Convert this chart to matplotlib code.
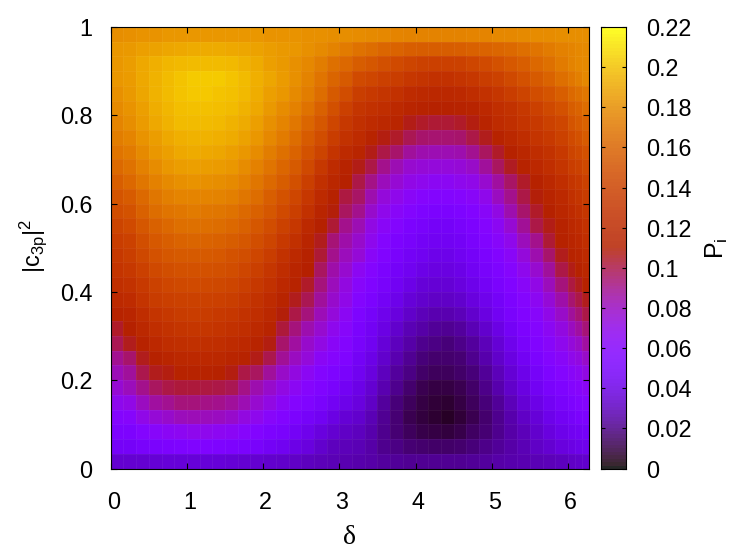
import matplotlib
matplotlib.use("Agg")
import matplotlib.pyplot as plt
from matplotlib.transforms import ScaledTranslation
import numpy as np

plt.rcParams['font.family'] = ['Liberation Sans', 'DejaVu Sans']
plt.rcParams['mathtext.fontset'] = 'custom'
plt.rcParams['mathtext.rm'] = 'Liberation Sans'
plt.rcParams['mathtext.it'] = 'Liberation Sans'

# cell edges of the map
delta_edges = [j / 6 for j in range(37)] + [6.09, 6.19, 6.28]
c3p_edges = [1 - i / 30 for i in range(31)]

x_ticks = [0, 1, 2, 3, 4, 5, 6]
y_ticks = [0, 0.2, 0.4, 0.6, 0.8, 1]
y_labels = ['0', '0.2', '0.4', '0.6', '0.8', '1']
cb_ticks = [0, 0.02, 0.04, 0.06, 0.08, 0.1, 0.12, 0.14, 0.16, 0.18, 0.2, 0.22]
cb_labels = ['0', '0.02', '0.04', '0.06', '0.08', '0.1', '0.12', '0.14', '0.16', '0.18', '0.2', '0.22']

# P_i in units of 0.001, top row first
p_milli = [
    [181, 182, 183, 183, 184, 184, 184, 184, 184, 184, 184, 184, 183, 183, 183, 182, 182, 181, 181, 180, 179, 178, 177, 176, 176, 176, 176, 176, 177, 177, 178, 178, 179, 180, 180, 181, 181, 181, 181],
    [184, 185, 188, 189, 190, 191, 192, 192, 192, 191, 190, 189, 187, 185, 184, 182, 179, 176, 172, 168, 165, 162, 160, 158, 157, 157, 157, 158, 159, 160, 162, 164, 166, 169, 172, 175, 177, 178, 179],
    [184, 187, 191, 194, 196, 197, 198, 198, 198, 197, 195, 192, 188, 185, 182, 178, 173, 167, 163, 157, 153, 149, 146, 142, 140, 139, 139, 140, 143, 146, 150, 154, 158, 163, 167, 172, 176, 178, 179],
    [184, 186, 191, 195, 198, 201, 203, 203, 203, 201, 198, 194, 190, 186, 182, 176, 169, 161, 155, 146, 143, 139, 136, 132, 129, 127, 127, 129, 132, 136, 140, 145, 150, 155, 160, 166, 171, 174, 178],
    [182, 185, 190, 195, 198, 201, 202, 202, 201, 200, 197, 193, 188, 184, 179, 173, 165, 155, 147, 137, 134, 130, 127, 122, 120, 118, 118, 120, 123, 127, 131, 136, 141, 147, 152, 158, 164, 167, 171],
    [179, 183, 188, 193, 196, 199, 200, 200, 199, 198, 195, 191, 185, 180, 175, 168, 159, 149, 139, 130, 127, 124, 120, 116, 113, 112, 112, 113, 115, 119, 124, 128, 133, 139, 145, 150, 157, 160, 165],
    [177, 181, 186, 191, 195, 198, 198, 198, 197, 195, 192, 188, 182, 177, 171, 162, 153, 143, 133, 126, 122, 118, 116, 107, 104, 103, 103, 104, 108, 115, 122, 125, 129, 134, 140, 143, 152, 156, 160],
    [173, 177, 183, 187, 191, 194, 195, 195, 194, 192, 189, 184, 178, 172, 165, 156, 147, 136, 128, 122, 115, 108, 104, 98, 95, 94, 94, 95, 100, 106, 113, 118, 123, 129, 134, 140, 146, 150, 156],
    [169, 172, 179, 184, 188, 191, 192, 191, 190, 188, 184, 180, 173, 167, 160, 151, 141, 129, 121, 116, 107, 100, 95, 87, 84, 83, 83, 84, 89, 97, 104, 112, 117, 123, 128, 134, 141, 145, 150],
    [164, 168, 175, 180, 184, 187, 188, 187, 186, 184, 180, 175, 169, 162, 155, 145, 133, 122, 114, 107, 100, 90, 83, 77, 75, 74, 74, 75, 79, 87, 97, 105, 113, 119, 124, 130, 136, 140, 145],
    [158, 163, 170, 175, 179, 182, 183, 182, 181, 179, 175, 170, 164, 157, 149, 138, 126, 117, 111, 100, 91, 81, 76, 71, 68, 66, 66, 68, 70, 77, 86, 96, 104, 112, 118, 124, 130, 134, 140],
    [152, 156, 164, 170, 174, 177, 177, 177, 176, 174, 170, 165, 158, 151, 143, 132, 121, 112, 101, 96, 84, 74, 69, 64, 60, 58, 58, 60, 63, 69, 80, 90, 100, 109, 115, 120, 126, 130, 135],
    [147, 151, 159, 165, 169, 171, 172, 171, 170, 168, 164, 159, 153, 146, 138, 127, 116, 109, 97, 90, 78, 69, 63, 58, 54, 52, 52, 54, 57, 63, 72, 84, 95, 104, 111, 117, 122, 126, 131],
    [141, 146, 153, 159, 163, 166, 167, 166, 165, 163, 159, 153, 147, 140, 132, 120, 111, 103, 90, 83, 72, 64, 58, 52, 49, 47, 47, 49, 53, 59, 66, 76, 88, 100, 107, 114, 118, 122, 127],
    [136, 140, 148, 154, 158, 160, 161, 160, 159, 157, 153, 148, 142, 134, 126, 116, 106, 93, 85, 78, 68, 59, 53, 49, 46, 44, 44, 46, 50, 56, 62, 69, 81, 90, 103, 112, 116, 119, 124],
    [133, 137, 144, 150, 153, 155, 155, 155, 154, 151, 148, 143, 136, 128, 120, 112, 103, 90, 81, 75, 64, 56, 50, 46, 43, 41, 41, 43, 47, 52, 57, 64, 74, 84, 95, 106, 113, 116, 121],
    [129, 133, 139, 145, 148, 150, 150, 150, 149, 147, 143, 138, 131, 123, 116, 110, 97, 85, 77, 67, 59, 52, 47, 43, 40, 38, 38, 40, 44, 49, 54, 60, 68, 77, 87, 100, 107, 112, 117],
    [125, 128, 134, 140, 143, 145, 146, 145, 144, 142, 138, 133, 127, 119, 113, 104, 92, 81, 73, 62, 55, 49, 44, 40, 36, 35, 35, 37, 41, 46, 51, 56, 63, 71, 81, 92, 101, 106, 112],
    [120, 122, 129, 135, 138, 140, 140, 140, 139, 137, 133, 128, 122, 115, 106, 98, 87, 78, 70, 58, 52, 46, 41, 36, 33, 31, 31, 33, 37, 42, 47, 53, 59, 67, 75, 85, 94, 100, 106],
    [113, 116, 123, 129, 133, 135, 136, 135, 134, 132, 128, 124, 118, 109, 100, 92, 82, 74, 66, 54, 48, 42, 37, 32, 29, 27, 27, 29, 33, 38, 44, 50, 56, 62, 70, 79, 87, 93, 100],
    [104, 111, 118, 124, 128, 130, 131, 131, 129, 127, 124, 120, 115, 102, 92, 84, 77, 68, 62, 51, 45, 39, 33, 28, 25, 23, 22, 24, 28, 33, 39, 46, 53, 59, 66, 73, 80, 86, 93],
    [98, 106, 113, 119, 123, 125, 126, 125, 124, 122, 119, 115, 108, 95, 86, 78, 72, 64, 58, 49, 43, 36, 30, 25, 21, 19, 18, 20, 24, 29, 35, 42, 49, 56, 62, 68, 74, 79, 86],
    [89, 95, 106, 112, 116, 118, 119, 119, 118, 116, 114, 107, 99, 88, 80, 74, 65, 60, 55, 46, 40, 33, 27, 22, 18, 16, 16, 17, 21, 26, 32, 38, 45, 52, 58, 63, 69, 73, 79],
    [82, 87, 99, 106, 108, 113, 114, 113, 112, 108, 100, 97, 87, 79, 73, 66, 58, 54, 50, 43, 37, 30, 24, 19, 15, 13, 13, 15, 18, 23, 29, 35, 41, 48, 54, 59, 63, 67, 72],
    [76, 81, 90, 97, 100, 102, 102, 101, 100, 98, 91, 84, 78, 72, 66, 60, 55, 50, 45, 40, 34, 27, 21, 16, 12, 10, 10, 12, 15, 20, 26, 32, 38, 44, 50, 54, 58, 61, 65],
    [68, 71, 80, 86, 89, 92, 92, 91, 90, 87, 83, 77, 72, 65, 59, 55, 50, 45, 41, 37, 31, 24, 18, 13, 10, 8, 7, 10, 13, 18, 23, 29, 35, 40, 45, 49, 53, 56, 59],
    [59, 61, 70, 75, 78, 81, 82, 81, 80, 78, 73, 68, 62, 57, 52, 48, 44, 39, 35, 33, 28, 22, 17, 12, 9, 7, 6, 8, 12, 16, 21, 26, 31, 36, 41, 45, 48, 51, 53],
    [53, 53, 58, 62, 65, 67, 68, 68, 67, 65, 61, 57, 53, 50, 46, 42, 37, 34, 31, 30, 26, 21, 17, 13, 11, 10, 9, 11, 14, 17, 21, 25, 29, 33, 37, 41, 43, 45, 47],
    [47, 47, 49, 51, 53, 54, 55, 55, 54, 53, 51, 49, 46, 43, 40, 37, 33, 30, 29, 28, 25, 21, 19, 17, 16, 15, 15, 16, 18, 20, 23, 25, 28, 31, 34, 37, 39, 41, 42],
    [34, 34, 34, 35, 36, 36, 36, 36, 36, 35, 34, 34, 33, 32, 31, 30, 29, 28, 27, 26, 25, 24, 23, 22, 22, 22, 22, 22, 23, 24, 25, 26, 27, 28, 29, 30, 31, 32, 33],
]

W, H = 737, 552
fig = plt.figure(figsize=(W / 100, H / 100), dpi=100)

# gnuplot's default pm3d palette (7,5,15) is the 'gnuplot' colormap
ax = fig.add_axes([110.7 / W, 1 - 468.5 / H, (589.3 - 110.7) / W, (468.5 - 27) / H])
p = np.array(p_milli) / 1000
ax.pcolormesh(delta_edges, c3p_edges, p, cmap='gnuplot', vmin=0, vmax=0.22,
              edgecolors=(1, 1, 1, 0.05), linewidth=0.6)
ax.set_xlim(0, 6.28)
ax.set_ylim(0, 1)
ax.set_xticks(x_ticks)
ax.set_yticks(y_ticks)
ax.set_yticklabels(y_labels)
ax.tick_params(axis='x', direction='in', top=True, length=4, width=0.8, labelsize=16.8, pad=16)
ax.tick_params(axis='y', direction='in', right=True, length=4, width=0.8, labelsize=16.8, pad=13)

# gnuplot puts the x labels a little right of their ticks
nudge = ScaledTranslation(2.5 / 100, 0, fig.dpi_scale_trans)
for label in ax.get_xticklabels():
    label.set_transform(label.get_transform() + nudge)

# colour box
cax = fig.add_axes([601 / W, 1 - 468.5 / H, 24.5 / W, (468.5 - 27) / H])
levels = np.linspace(0, 0.22, 128)[:, None]
cax.imshow(levels, origin='lower', extent=[0, 1, 0, 0.22], aspect='auto',
           cmap='gnuplot', vmin=0, vmax=0.22, alpha=0.85, interpolation='nearest')
cax.set_xticks([])
cax.set_yticks(cb_ticks)
cax.set_yticklabels(cb_labels)
cax.yaxis.tick_right()
cax.tick_params(axis='y', direction='in', left=True, right=True, length=3, width=0.8,
                labelsize=16.8, pad=15)

fig.text(350 / W, 1 - 537 / H, '\u03b4', family='Liberation Serif', fontsize=20, ha='center', va='center')
fig.text(33 / W, 1 - 246 / H, r'$\mathregular{|c_{3p}|^2}$', fontsize=17, rotation=90, ha='center', va='center')
fig.text(717 / W, 1 - 248 / H, r'$\mathregular{P_i}$', fontsize=18, rotation=90, ha='center', va='center')

fig.savefig('out.png', dpi=100)
